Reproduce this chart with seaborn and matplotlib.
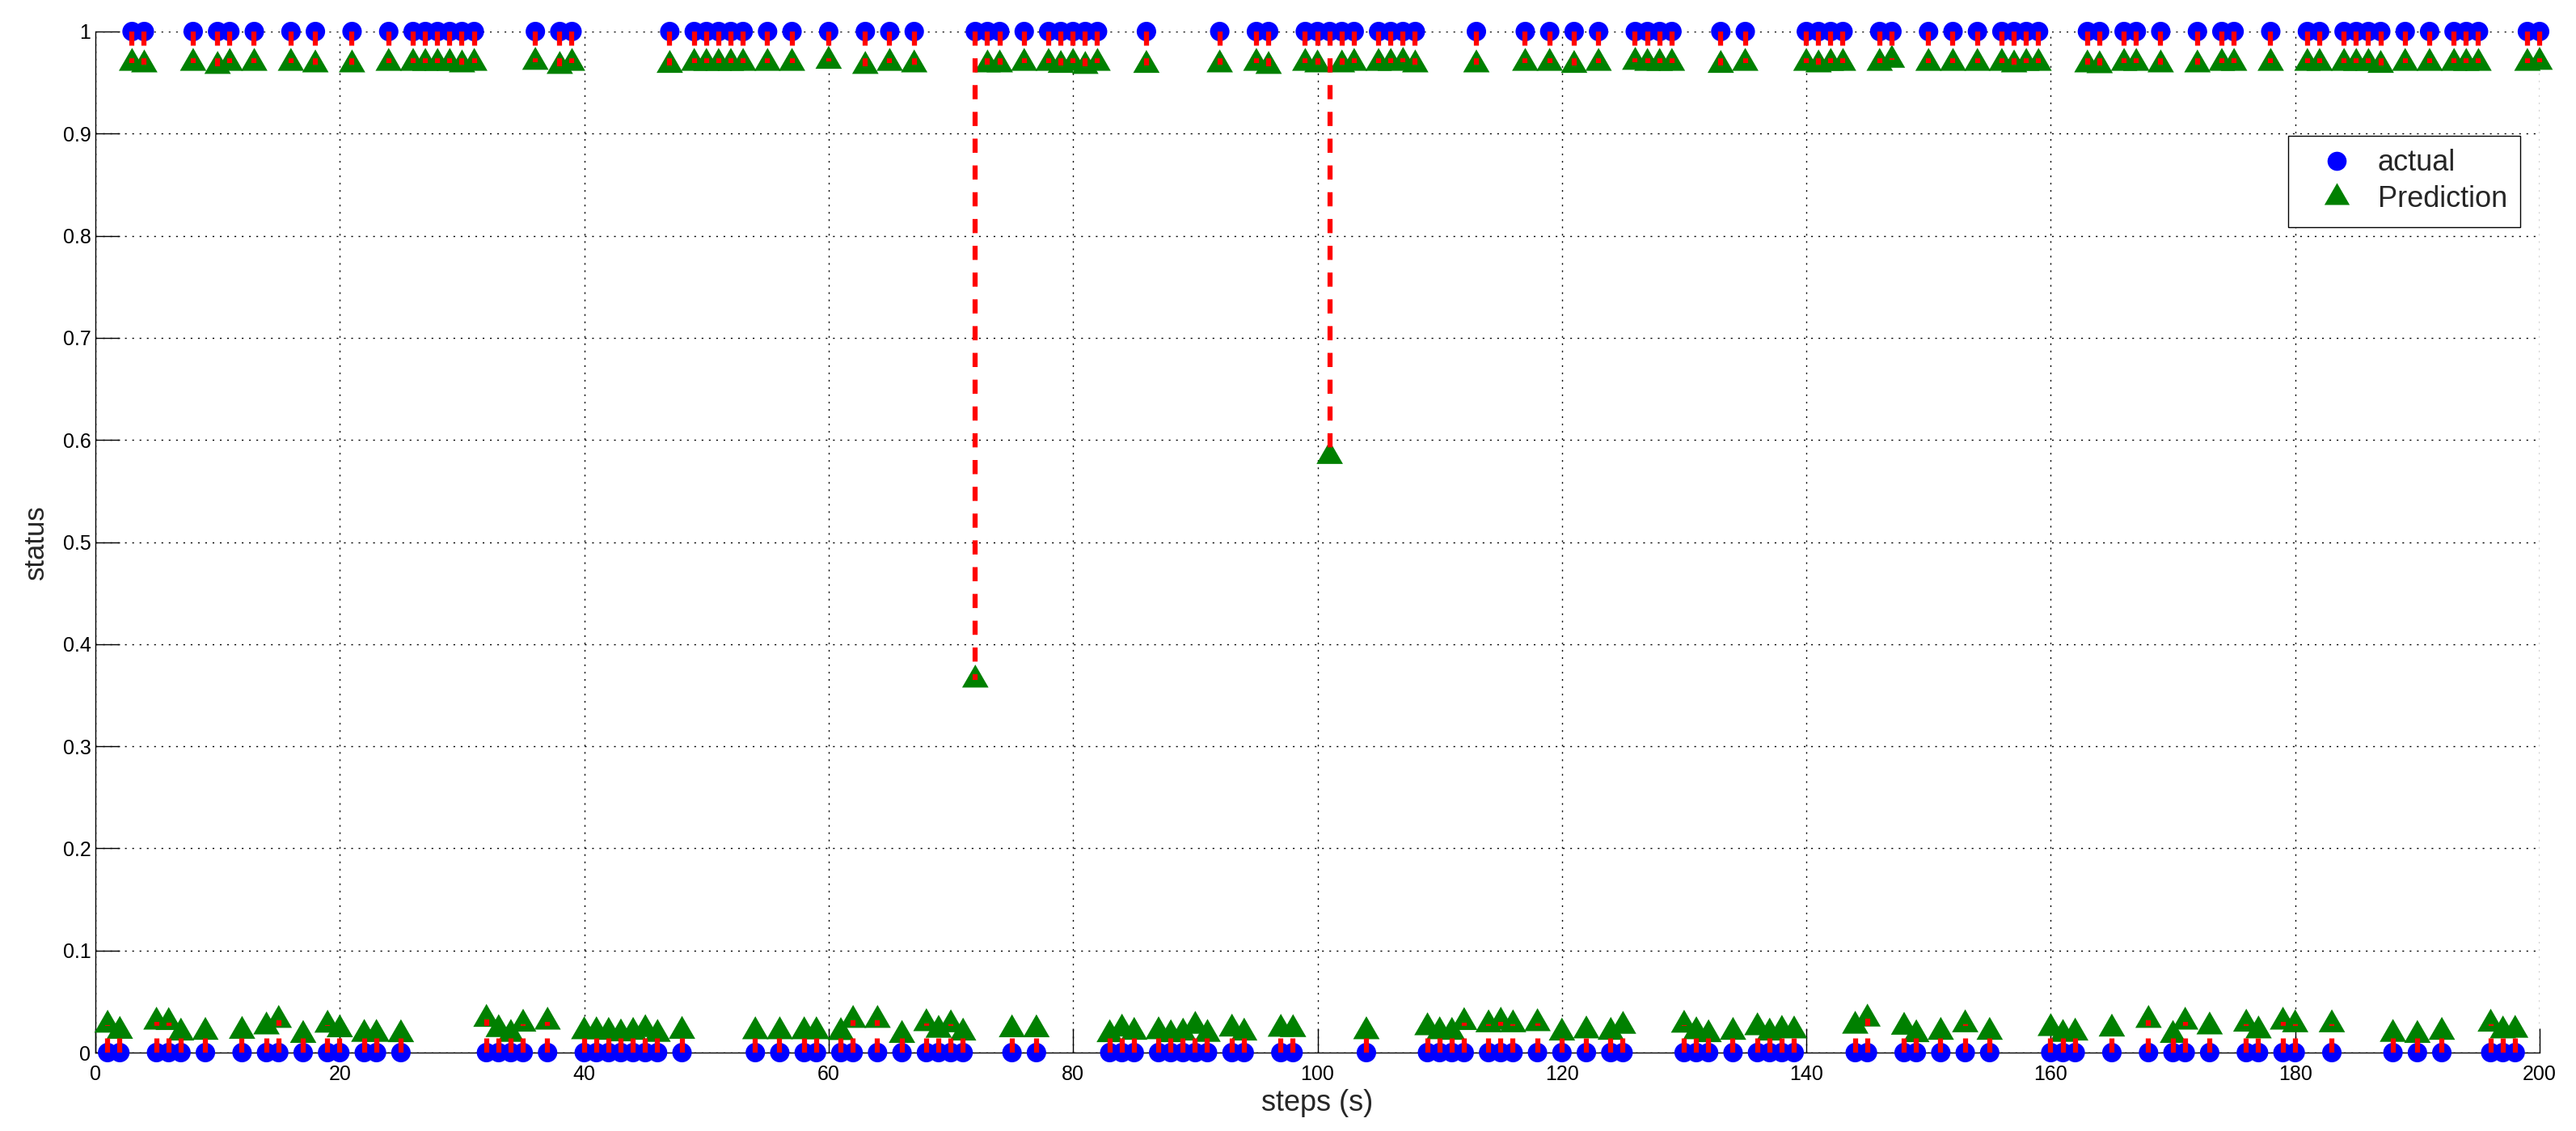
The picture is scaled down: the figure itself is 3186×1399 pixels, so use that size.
import matplotlib
matplotlib.use('Agg')
import matplotlib.pyplot as plt
from matplotlib.lines import Line2D
from matplotlib.markers import MarkerStyle
import pandas as pd
import seaborn as sns

# steps 1..200, actual status (0/1) and model prediction
steps = list(range(1, 201))

actual = [
    0, 0, 1, 1, 0, 0, 0, 1, 0, 1,   # 1-10
    1, 0, 1, 0, 0, 1, 0, 1, 0, 0,   # 11-20
    1, 0, 0, 1, 0, 1, 1, 1, 1, 1,   # 21-30
    1, 0, 0, 0, 0, 1, 0, 1, 1, 0,   # 31-40
    0, 0, 0, 0, 0, 0, 1, 0, 1, 1,   # 41-50
    1, 1, 1, 0, 1, 0, 1, 0, 0, 1,   # 51-60
    0, 0, 1, 0, 1, 0, 1, 0, 0, 0,   # 61-70
    0, 1, 1, 1, 0, 1, 0, 1, 1, 1,   # 71-80
    1, 1, 0, 0, 0, 1, 0, 0, 0, 0,   # 81-90
    0, 1, 0, 0, 1, 1, 0, 0, 1, 1,   # 91-100
    1, 1, 1, 0, 1, 1, 1, 1, 0, 0,   # 101-110
    0, 0, 1, 0, 0, 0, 1, 0, 1, 0,   # 111-120
    1, 0, 1, 0, 0, 1, 1, 1, 1, 0,   # 121-130
    0, 0, 1, 0, 1, 0, 0, 0, 0, 1,   # 131-140
    1, 1, 1, 0, 0, 1, 1, 0, 0, 1,   # 141-150
    0, 1, 0, 1, 0, 1, 1, 1, 1, 0,   # 151-160
    0, 0, 1, 1, 0, 1, 1, 0, 1, 0,   # 161-170
    0, 1, 0, 1, 1, 0, 0, 1, 0, 0,   # 171-180
    1, 1, 0, 1, 1, 1, 1, 0, 1, 0,   # 181-190
    1, 0, 1, 1, 1, 0, 0, 0, 1, 1,   # 191-200
]

prediction = [
    0.027, 0.021, 0.969, 0.9675, 0.030, 0.0296, 0.0193, 0.969, 0.020, 0.966,
    0.969, 0.021, 0.969, 0.0253, 0.0317, 0.969, 0.017, 0.9675, 0.027, 0.0225,
    0.9675, 0.018, 0.018, 0.969, 0.0177, 0.969, 0.969, 0.969, 0.969, 0.9675,
    0.969, 0.0327, 0.0227, 0.018, 0.028, 0.970, 0.030, 0.966, 0.969, 0.0206,
    0.0206, 0.020, 0.0185, 0.020, 0.0227, 0.018, 0.967, 0.021, 0.969, 0.969,
    0.969, 0.969, 0.969, 0.0206, 0.969, 0.0206, 0.969, 0.0206, 0.0206, 0.971,
    0.0198, 0.0317, 0.966, 0.0317, 0.969, 0.017, 0.9675, 0.0285, 0.022, 0.0274,
    0.0193, 0.365, 0.9675, 0.9675, 0.0225, 0.969, 0.0225, 0.969, 0.967, 0.969,
    0.966, 0.969, 0.0177, 0.0232, 0.020, 0.967, 0.0206, 0.0177, 0.0193, 0.0259,
    0.018, 0.9675, 0.0232, 0.0193, 0.969, 0.966, 0.023, 0.0227, 0.969, 0.9675,
    0.584, 0.9675, 0.969, 0.0206, 0.969, 0.969, 0.970, 0.9675, 0.0245, 0.0206,
    0.020, 0.0296, 0.9675, 0.0274, 0.030, 0.0274, 0.969, 0.0285, 0.969, 0.0193,
    0.967, 0.0214, 0.969, 0.020, 0.0259, 0.970, 0.969, 0.969, 0.969, 0.027,
    0.0206, 0.0177, 0.967, 0.020, 0.969, 0.0245, 0.0193, 0.022, 0.0214, 0.969,
    0.9675, 0.969, 0.969, 0.026, 0.033, 0.969, 0.972, 0.025, 0.0177, 0.969,
    0.020, 0.969, 0.0274, 0.969, 0.020, 0.969, 0.9675, 0.969, 0.969, 0.0237,
    0.018, 0.0193, 0.9675, 0.9667, 0.0232, 0.969, 0.969, 0.0317, 0.9675, 0.017,
    0.030, 0.9675, 0.0253, 0.969, 0.969, 0.028, 0.0214, 0.969, 0.030, 0.0274,
    0.969, 0.969, 0.0274, 0.969, 0.969, 0.969, 0.967, 0.018, 0.969, 0.017,
    0.969, 0.020, 0.969, 0.969, 0.969, 0.028, 0.0214, 0.022, 0.969, 0.970,
]

x_ticks = [0, 20, 40, 60, 80, 100, 120, 140, 160, 180, 200]
y_ticks = [0, 0.1, 0.2, 0.3, 0.4, 0.5, 0.6, 0.7, 0.8, 0.9, 1]
y_tick_labels = ['0', '0.1', '0.2', '0.3', '0.4', '0.5', '0.6', '0.7', '0.8', '0.9', '1']
legend_labels = ['actual', 'Prediction']

df = pd.DataFrame({'step': steps, 'actual': actual, 'prediction': prediction})

sns.set_style('white')
plt.rcParams['font.family'] = ['Liberation Sans', 'DejaVu Sans']

W, H = 3186, 1399
fig = plt.figure(figsize=(W / 100, H / 100), dpi=100)
ax = fig.add_axes([118 / W, 1 - 1302 / H, (3141 - 118) / W, (1302 - 39) / H])

# MATLAB-style triangle: data point sits at the centroid, not the bbox centre
tri = MarkerStyle([(0, 1), (-0.866, -0.5), (0.866, -0.5), (0, 1)])

sns.scatterplot(data=df, x='step', y='actual', marker='o', s=300, color='#0000FF',
                edgecolor='none', linewidth=0, clip_on=False, zorder=3, ax=ax, legend=False)
sns.scatterplot(data=df, x='step', y='prediction', marker=tri, s=740, color='#008000',
                edgecolor='none', linewidth=0, clip_on=False, zorder=4, ax=ax, legend=False)
ax.vlines(df['step'], df['actual'], df['prediction'], colors='#FF0000',
          linestyles=(0, (2.8, 2.5)), linewidth=4.5, zorder=5, clip_on=False)

ax.set_xlim(0, 200)
ax.set_ylim(0, 1)
ax.set_xticks(x_ticks)
ax.set_yticks(y_ticks)
ax.set_yticklabels(y_tick_labels)
ax.set_axisbelow(True)
ax.grid(True, color='black', linestyle=(0, (1.5, 5)), linewidth=1.0)
for side in ['top', 'right']:
    ax.spines[side].set_visible(False)
for side in ['left', 'bottom']:
    ax.spines[side].set_linewidth(1.0)
    ax.spines[side].set_color('black')
ax.tick_params(bottom=True, left=True, top=False, right=False, direction='in',
               length=21.6, width=1.0, colors='black', labelsize=18)
ax.tick_params(axis='x', pad=11)
ax.tick_params(axis='y', pad=4)

ax.set_xlabel('steps (s)', fontsize=26, labelpad=4)
ax.set_ylabel('status', fontsize=25, labelpad=12)

handles = [
    Line2D([], [], linestyle='none', marker='o', markersize=17, color='#0000FF', markeredgewidth=0),
    Line2D([], [], linestyle='none', marker=tri, markersize=26, color='#008000', markeredgewidth=0),
]
leg = ax.legend(handles, legend_labels, loc='upper right',
                bbox_to_anchor=(3117 / W, 1 - 168 / H), bbox_transform=fig.transFigure,
                borderaxespad=0, fontsize=26, frameon=True, fancybox=False,
                edgecolor='black', framealpha=1, borderpad=0.45, labelspacing=0.28,
                handlelength=2.4, handletextpad=0.2)
leg.get_frame().set_linewidth(1.0)

fig.savefig('out.png', dpi=100)
plt.close(fig)
